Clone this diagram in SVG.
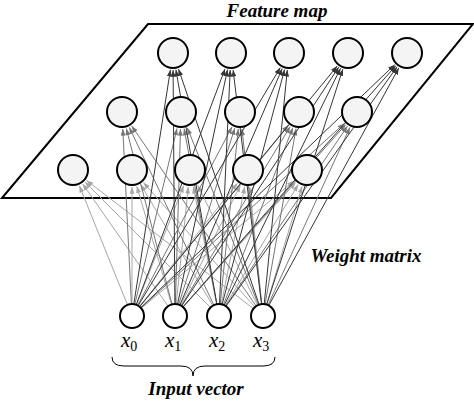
<svg xmlns="http://www.w3.org/2000/svg" width="474" height="401" viewBox="0 0 474 401">
<style>
.title{font-family:"Liberation Serif","Times New Roman",serif;font-weight:bold;font-style:italic;font-size:19px;fill:#000}
.xl{font-family:"Liberation Serif","Times New Roman",serif;font-style:italic;font-size:21px;fill:#000}
.sub{font-style:normal;font-size:14px}
.fm{fill:#f4f4f4;stroke:#000;stroke-width:2}
.in{fill:#fff;stroke:#000;stroke-width:2}
.lb{stroke:#a6a6a6;stroke-width:1;fill:none;marker-end:url(#ab)}
.lm{stroke:#767676;stroke-width:1;fill:none;marker-end:url(#am)}
.lt{stroke:#363636;stroke-width:1;fill:none;marker-end:url(#at)}
</style>
<defs>
<marker id="ab" viewBox="0 0 8 6" refX="8" refY="3" markerWidth="7" markerHeight="5" orient="auto" markerUnits="userSpaceOnUse"><path d="M0,0 L8,3 L0,6 z" fill="#a6a6a6"/></marker>
<marker id="am" viewBox="0 0 8 6" refX="8" refY="3" markerWidth="7" markerHeight="5" orient="auto" markerUnits="userSpaceOnUse"><path d="M0,0 L8,3 L0,6 z" fill="#767676"/></marker>
<marker id="at" viewBox="0 0 8 6" refX="8" refY="3" markerWidth="7" markerHeight="5" orient="auto" markerUnits="userSpaceOnUse"><path d="M0,0 L8,3 L0,6 z" fill="#363636"/></marker>
</defs>
<rect width="474" height="401" fill="#fff"/>
<g id="feature-map-plane">
<polygon points="148,24 473,24 331,198 2,198" fill="#fff" stroke="#000" stroke-width="2"/>
</g>
<text class="title" x="277" y="17" text-anchor="middle">Feature map</text>
<g id="connectors">
<line class="lb" x1="127.5" y1="304.9" x2="79.4" y2="185.8"/>
<line class="lb" x1="168.1" y1="306.2" x2="82.7" y2="183.9"/>
<line class="lb" x1="210.5" y1="307.5" x2="85" y2="182"/>
<line class="lb" x1="253.5" y1="308.7" x2="86.5" y2="180.4"/>
<line class="lb" x1="132" y1="304" x2="132" y2="187"/>
<line class="lb" x1="171.6" y1="304.5" x2="136.8" y2="186.3"/>
<line class="lb" x1="212.9" y1="305.7" x2="140.7" y2="184.6"/>
<line class="lb" x1="255" y1="307.1" x2="143.4" y2="182.6"/>
<line class="lb" x1="136.4" y1="304.9" x2="183.7" y2="185.8"/>
<line class="lb" x1="176.2" y1="304.1" x2="188.3" y2="186.9"/>
<line class="lb" x1="216.7" y1="304.2" x2="193.3" y2="186.7"/>
<line class="lb" x1="257.6" y1="305.3" x2="197.6" y2="185.2"/>
<line class="lb" x1="139.5" y1="306.6" x2="237.4" y2="183.3"/>
<line class="lb" x1="180.4" y1="305.3" x2="240.4" y2="185.2"/>
<line class="lb" x1="221.3" y1="304.2" x2="244.7" y2="186.7"/>
<line class="lb" x1="261.8" y1="304.1" x2="249.7" y2="186.9"/>
<line class="lb" x1="141.2" y1="308.3" x2="293.9" y2="180.9"/>
<line class="lb" x1="183.1" y1="307.1" x2="295.6" y2="182.6"/>
<line class="lb" x1="225.2" y1="305.7" x2="298.2" y2="184.6"/>
<line class="lb" x1="266.5" y1="304.5" x2="302.1" y2="186.3"/>

<line class="lm" x1="131.4" y1="304" x2="122.8" y2="129"/>
<line class="lm" x1="172" y1="304.4" x2="126.3" y2="128.5"/>
<line class="lm" x1="213.9" y1="305.2" x2="129.3" y2="127.4"/>
<line class="lm" x1="256.2" y1="306.1" x2="131.7" y2="126"/>
<line class="lm" x1="134.8" y1="304.3" x2="177" y2="128.5"/>
<line class="lm" x1="175.4" y1="304" x2="180.5" y2="129"/>
<line class="lm" x1="216.8" y1="304.2" x2="184.1" y2="128.7"/>
<line class="lm" x1="258.5" y1="304.9" x2="187.3" y2="127.8"/>
<line class="lm" x1="137.6" y1="305.4" x2="232" y2="127"/>
<line class="lm" x1="178.6" y1="304.6" x2="234.8" y2="128.2"/>
<line class="lm" x1="220.2" y1="304.1" x2="238.3" y2="128.9"/>
<line class="lm" x1="261.7" y1="304.1" x2="241.9" y2="128.9"/>
<line class="lm" x1="139.6" y1="306.7" x2="288.2" y2="125.2"/>
<line class="lm" x1="181.2" y1="305.7" x2="290.2" y2="126.5"/>
<line class="lm" x1="223.4" y1="304.8" x2="292.8" y2="127.8"/>
<line class="lm" x1="265.1" y1="304.2" x2="296" y2="128.7"/>
<line class="lm" x1="140.9" y1="307.9" x2="344.4" y2="123.4"/>
<line class="lm" x1="183" y1="307" x2="345.7" y2="124.7"/>
<line class="lm" x1="225.7" y1="306.1" x2="347.5" y2="126.1"/>
<line class="lm" x1="268" y1="305.1" x2="349.9" y2="127.4"/>

<line class="lt" x1="133.8" y1="304.1" x2="170.4" y2="69.8"/>
<line class="lt" x1="174.9" y1="304" x2="173.1" y2="70"/>
<line class="lt" x1="216.9" y1="304.2" x2="175.9" y2="69.7"/>
<line class="lt" x1="259.1" y1="304.6" x2="178.5" y2="69.1"/>
<line class="lt" x1="136.2" y1="304.8" x2="225" y2="68.9"/>
<line class="lt" x1="177.5" y1="304.3" x2="227.5" y2="69.6"/>
<line class="lt" x1="219.5" y1="304" x2="230.2" y2="70"/>
<line class="lt" x1="261.5" y1="304.1" x2="233.1" y2="69.9"/>
<line class="lt" x1="138.2" y1="305.7" x2="280.3" y2="67.6"/>
<line class="lt" x1="179.8" y1="305" x2="282.2" y2="68.6"/>
<line class="lt" x1="222.1" y1="304.4" x2="284.6" y2="69.4"/>
<line class="lt" x1="264.2" y1="304.1" x2="287.3" y2="69.9"/>
<line class="lt" x1="139.6" y1="306.7" x2="337.2" y2="66.1"/>
<line class="lt" x1="181.6" y1="306" x2="338.7" y2="67.2"/>
<line class="lt" x1="224.3" y1="305.2" x2="340.5" y2="68.3"/>
<line class="lt" x1="266.7" y1="304.6" x2="342.8" y2="69.2"/>
<line class="lt" x1="140.7" y1="307.7" x2="394.7" y2="64.7"/>
<line class="lt" x1="182.9" y1="307" x2="395.7" y2="65.8"/>
<line class="lt" x1="226" y1="306.2" x2="397.1" y2="66.8"/>
<line class="lt" x1="268.8" y1="305.5" x2="398.8" y2="67.9"/>
</g>
<g id="node-t0"><circle class="fm" cx="173" cy="53" r="15"/></g>
<g id="node-t1"><circle class="fm" cx="231" cy="53" r="15"/></g>
<g id="node-t2"><circle class="fm" cx="289" cy="53" r="15"/></g>
<g id="node-t3"><circle class="fm" cx="348" cy="53" r="15"/></g>
<g id="node-t4"><circle class="fm" cx="407" cy="53" r="15"/></g>
<g id="node-m0"><circle class="fm" cx="122" cy="112" r="15"/></g>
<g id="node-m1"><circle class="fm" cx="181" cy="112" r="15"/></g>
<g id="node-m2"><circle class="fm" cx="240" cy="112" r="15"/></g>
<g id="node-m3"><circle class="fm" cx="299" cy="112" r="15"/></g>
<g id="node-m4"><circle class="fm" cx="357" cy="112" r="15"/></g>
<g id="node-b0"><circle class="fm" cx="73" cy="170" r="15"/></g>
<g id="node-b1"><circle class="fm" cx="132" cy="170" r="15"/></g>
<g id="node-b2"><circle class="fm" cx="190" cy="170" r="15"/></g>
<g id="node-b3"><circle class="fm" cx="248" cy="170" r="15"/></g>
<g id="node-b4"><circle class="fm" cx="307" cy="170" r="15"/></g>
<g id="input-x0"><circle class="in" cx="132" cy="316" r="12"/><text class="xl" x="121" y="347">x<tspan class="sub" dy="4">0</tspan></text></g>
<g id="input-x1"><circle class="in" cx="175" cy="316" r="12"/><text class="xl" x="165" y="347">x<tspan class="sub" dy="4">1</tspan></text></g>
<g id="input-x2"><circle class="in" cx="219" cy="316" r="12"/><text class="xl" x="209" y="347">x<tspan class="sub" dy="4">2</tspan></text></g>
<g id="input-x3"><circle class="in" cx="263" cy="316" r="12"/><text class="xl" x="253" y="347">x<tspan class="sub" dy="4">3</tspan></text></g>
<text class="title" x="366" y="262" text-anchor="middle">Weight matrix</text>
<path d="M112,357 Q112,366 124,366 L181,366 Q193,366 193,376 Q193,366 205,366 L263,366 Q275,366 275,357" fill="none" stroke="#000" stroke-width="1"/>
<text class="title" x="196" y="395" text-anchor="middle">Input vector</text>
</svg>
